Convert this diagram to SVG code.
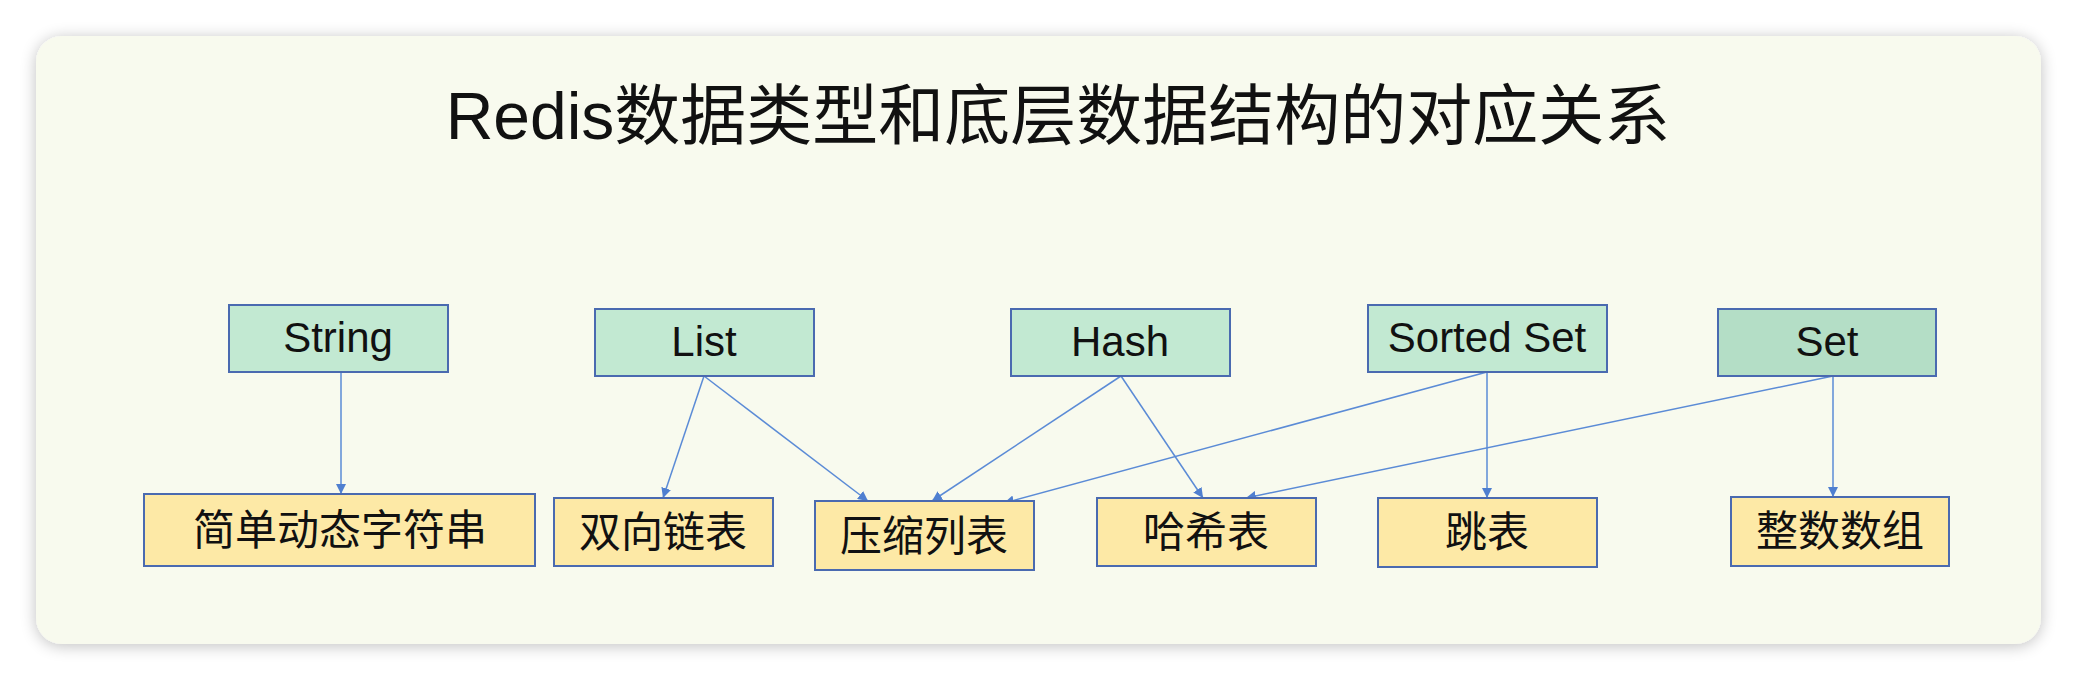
<svg xmlns="http://www.w3.org/2000/svg" width="2078" height="680" viewBox="0 0 2078 680">
<defs>
<filter id="sh" x="-5%" y="-10%" width="110%" height="120%"><feGaussianBlur in="SourceAlpha" stdDeviation="8"/><feOffset dy="2"/><feComponentTransfer><feFuncA type="linear" slope="0.25"/></feComponentTransfer><feMerge><feMergeNode/><feMergeNode in="SourceGraphic"/></feMerge></filter>
<marker id="ah" viewBox="0 0 10 10" refX="10" refY="5" markerWidth="10" markerHeight="10" markerUnits="userSpaceOnUse" orient="auto"><path d="M0,0 L10,5 L0,10 z" fill="#4f7fd0"/></marker>
</defs>
<style>
.t{font-family:"Liberation Sans","Noto Sans CJK SC",sans-serif;font-size:42px;fill:#111;text-anchor:middle;dominant-baseline:central}
.top{fill:#c2e9d2;stroke:#4a6ab0;stroke-width:2}
.bot{fill:#fde9a6;stroke:#4a6ab0;stroke-width:2}
.c{stroke:#5b8bd6;stroke-width:1.5;fill:none;marker-end:url(#ah)}
</style>
<rect width="2078" height="680" fill="#ffffff"/>
<rect x="36" y="36" width="2005" height="608" rx="26" fill="#f8faee" filter="url(#sh)"/>
<text x="1058" y="116" class="t" style="font-size:66px">Redis数据类型和底层数据结构的对应关系</text>
<g id="connectors">
<line class="c" x1="341" y1="372" x2="341" y2="494"/>
<line class="c" x1="704" y1="376" x2="663" y2="498"/>
<line class="c" x1="704" y1="376" x2="868" y2="501"/>
<line class="c" x1="1121" y1="376" x2="932" y2="501"/>
<line class="c" x1="1121" y1="376" x2="1203" y2="498"/>
<line class="c" x1="1487" y1="372" x2="1004" y2="503"/>
<line class="c" x1="1487" y1="372" x2="1487" y2="498"/>
<line class="c" x1="1833" y1="376" x2="1246" y2="498"/>
<line class="c" x1="1833" y1="376" x2="1833" y2="497"/>
</g>
<g id="string"><rect class="top" x="229" y="305" width="219" height="67"/><text class="t" x="338" y="337">String</text></g>
<g id="list"><rect class="top" x="595" y="309" width="219" height="67"/><text class="t" x="704" y="341">List</text></g>
<g id="hash"><rect class="top" x="1011" y="309" width="219" height="67"/><text class="t" x="1120" y="341">Hash</text></g>
<g id="sortedset"><rect class="top" x="1368" y="305" width="239" height="67"/><text class="t" x="1487" y="337">Sorted Set</text></g>
<g id="set"><rect class="top" x="1718" y="309" width="218" height="67" style="fill:#b4dec6"/><text class="t" x="1827" y="341">Set</text></g>
<g id="sds"><rect class="bot" x="144" y="494" width="391" height="72"/><text class="t" x="340" y="530">简单动态字符串</text></g>
<g id="linkedlist"><rect class="bot" x="554" y="498" width="219" height="68"/><text class="t" x="663" y="532">双向链表</text></g>
<g id="ziplist"><rect class="bot" x="815" y="501" width="219" height="69"/><text class="t" x="924" y="536">压缩列表</text></g>
<g id="hashtable"><rect class="bot" x="1097" y="498" width="219" height="68"/><text class="t" x="1206" y="532">哈希表</text></g>
<g id="skiplist"><rect class="bot" x="1378" y="498" width="219" height="69"/><text class="t" x="1487" y="532">跳表</text></g>
<g id="intset"><rect class="bot" x="1731" y="497" width="218" height="69"/><text class="t" x="1840" y="531">整数数组</text></g>
</svg>
